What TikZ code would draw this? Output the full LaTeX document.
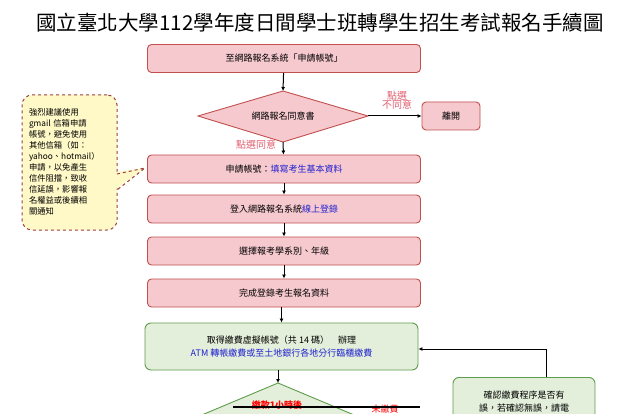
\documentclass[tikz,border=0pt]{standalone}
\usepackage{fontspec}
\setmainfont{Noto Sans CJK TC}
\usetikzlibrary{arrows.meta}
\definecolor{pinkf}{HTML}{F6C9CE}
\definecolor{pinkd}{HTML}{C0504D}
\definecolor{greenf}{HTML}{E3EFDA}
\definecolor{greend}{HTML}{5E9C4C}
\definecolor{yel}{HTML}{FFF9C8}
\definecolor{redt}{HTML}{E06070}
\definecolor{bluet}{HTML}{2020D0}
\tikzset{
 pbox/.style={draw=pinkd,fill=pinkf,rounded corners=4pt,line width=0.9pt,minimum width=273pt,minimum height=28pt,font=\fontsize{9}{11}\selectfont},
 gbox/.style={draw=greend,fill=greenf,rounded corners=6pt,line width=0.9pt,font=\fontsize{9}{13}\selectfont,align=center},
 arr/.style={-{Latex[length=4pt,width=4pt]},line width=1pt},
 lbl/.style={text=redt,font=\fontsize{10}{11}\selectfont,align=center}
}
\begin{document}
\begin{tikzpicture}[x=1pt,y=-1pt]
\useasboundingbox (0,0) rectangle (639,414);
\clip (0,0) rectangle (639,414);
\node[font=\fontsize{20.5}{22}\selectfont] (title) at (320,23) {國立臺北大學112學年度日間學士班轉學生招生考試報名手續圖};
\node[pbox] (b1) at (284,58.5) {至網路報名系統「申請帳號」};
\fill[pinkf,draw=pinkd,line width=0.9pt] (198,116) -- (283,91) -- (368,116) -- (283,142) -- cycle;
\node[font=\fontsize{9}{11}\selectfont] (d1t) at (283,116) {網路報名同意書};
\coordinate (d1top) at (283,91);
\coordinate (d1bot) at (283,142);
\coordinate (d1r) at (368,116);
\node[pbox,minimum width=58pt] (leave) at (451,116) {離開};
\node[pbox] (b2) at (284,169) {申請帳號：\textcolor{bluet}{填寫考生基本資料}};
\node[pbox] (b3) at (284,209) {登入網路報名系統\textcolor{bluet}{線上登錄}};
\node[pbox] (b4) at (284,251) {選擇報考學系別、年級};
\node[pbox] (b5) at (284,293) {完成登錄考生報名資料};
\node[gbox,minimum width=273pt,minimum height=47pt] (g1) at (281.5,346.5) {取得繳費虛擬帳號（共 14 碼）\quad 辦理\\\textcolor{bluet}{ATM 轉帳繳費或至土地銀行各地分行臨櫃繳費}};
\draw[arr] (b1) -- (d1top);
\draw[arr] (d1bot) -- (b2);
\draw[arr] (d1r) -- (leave);
\draw[arr] (b2) -- (b3);
\draw[arr] (b3) -- (b4);
\draw[arr] (b4) -- (b5);
\draw[arr] (b5.south -| g1.north) -- (g1.north);
\node[lbl] (l1) at (397,100) {點選\\[-2pt]不同意};
\node[lbl] (l2) at (256,145) {點選同意};
% bottom diamond
\coordinate (d2top) at (278,383);
\fill[greenf,draw=greend,line width=0.9pt] (178,425) -- (278,383) -- (378,425) -- (278,467) -- cycle;
\draw[arr] (g1.south -| d2top) -- (d2top);
\node[text=red,font=\fontsize{9}{10}\selectfont\bfseries] (d2t) at (277,405) {繳款1小時後};
\node[text=red,font=\fontsize{9}{10}\selectfont] (nopay) at (385,409) {未繳費};
\coordinate (lnA) at (233,407);
\coordinate (lnB) at (420,407);
\draw[line width=1.8pt] (lnA) -- (lnB);
% right box
\node[gbox,minimum width=142pt,minimum height=60pt,anchor=north] (g2) at (524,377) {確認繳費程序是否有\\誤，若確認無誤，請電\\~};
\draw[arr] (g2.north -| 546,0) |- (g1.east |- 0,349);
% callout
\node[draw=pinkd!80!black,dashed,fill=yel,line width=1pt,rounded corners=10pt,minimum width=95pt,minimum height=135pt] (call) at (69.5,162.5) {};
\fill[yel] (115,172) -- (145,168) -- (115,190) -- cycle;
\draw[pinkd!80!black,dashed,line width=1pt] (117,174) -- (145,168) -- (117,190);
\node[font=\fontsize{8.3}{11}\selectfont,align=left,text width=82pt] (callt) at (70,162) {強烈建議使用\\gmail 信箱申請\\帳號，避免使用\\其他信箱（如：\\yahoo、hotmail）\\申請，以免產生\\信件阻擋，致收\\信延誤，影響報\\名權益或後續相\\關通知};
\end{tikzpicture}
\end{document}
